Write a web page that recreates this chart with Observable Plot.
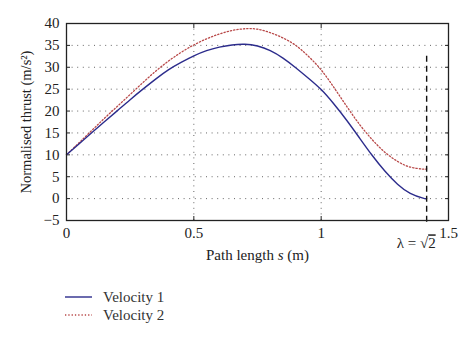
<!DOCTYPE html>
<html><head><meta charset="utf-8">
<script src="https://cdn.jsdelivr.net/npm/d3@7"></script>
<script src="https://cdn.jsdelivr.net/npm/@observablehq/plot@0.6"></script>
<style>
body{margin:0;background:#fff;font-family:"Liberation Serif","DejaVu Serif",serif;}
#chart svg{display:block;}
#legend{margin-left:65px;padding-top:16px;font-size:15px;color:#333;}
#legend .row{display:flex;align-items:center;height:18px;}
#legend svg{margin-right:11px;}
</style></head><body><div id="chart"></div><div id="legend"></div>
<script>
const s = [0,0.05,0.1,0.15,0.2,0.25,0.3,0.35,0.4,0.45,0.5,0.55,0.6,0.65,0.7,0.75,0.8,0.85,0.9,0.95,1.0,1.05,1.1,1.15,1.2,1.25,1.3,1.35,1.4,1.4142];
const velocity1 = [10,12.55,15.1,17.6,20.1,22.6,25.0,27.3,29.4,31.1,32.6,33.8,34.6,35.1,35.25,34.85,33.8,32.1,29.9,27.5,24.9,21.6,17.9,13.9,9.9,6.3,3.3,1.2,0.1,0];
const velocity2 = [10,12.8,15.6,18.4,21.1,23.8,26.5,29.1,31.4,33.4,35.1,36.5,37.6,38.4,38.8,38.7,37.9,36.7,35.0,32.5,29.4,25.4,21.1,17.0,13.5,10.6,8.5,7.2,6.75,6.8];
const seriesNames = ["Velocity 1","Velocity 2"];
const seriesColors = ["#2c2c8c","#b84848"];
const xTicks = [0,0.5,1,1.5];
const yTicks = [-5,0,5,10,15,20,25,30,35,40];
const xGrid = [0.5,1];
const yGrid = [0,5,10,15,20,25,30,35];
const lambda = Math.SQRT2;
const lambdaTop = 32.5;
const lambdaLabel = "λ = √2";

const rows = [];
s.forEach((x,i)=>{
  rows.push({s:x, v:velocity1[i], series:seriesNames[0]});
  rows.push({s:x, v:velocity2[i], series:seriesNames[1]});
});

const chart = Plot.plot({
  width:474, height:272,
  marginLeft:66, marginRight:26, marginTop:23, marginBottom:52,
  style:{fontFamily:'"Liberation Serif","DejaVu Serif",serif', fontSize:"15px", color:"#222", background:"#fff"},
  x:{domain:[0,1.5]},
  y:{domain:[-5,40]},
  marks:[
    Plot.gridY(yGrid,{stroke:"#666", strokeOpacity:1, strokeDasharray:"1,4.6", strokeWidth:1}),
    Plot.gridX(xGrid,{stroke:"#666", strokeOpacity:1, strokeDasharray:"1,4.6", strokeWidth:1}),
    Plot.axisY(yTicks,{anchor:"left", tickSize:0, tickPadding:7, label:"Normalised thrust (m/s²)", labelArrow:"none", labelAnchor:"center", labelOffset:46, fontSize:15}),
    Plot.axisX(xTicks,{anchor:"bottom", tickSize:0, tickPadding:7, tickFormat:d=>String(d), label:"Path length s (m)", labelArrow:"none", labelAnchor:"center", labelOffset:39, fontSize:15}),
    Plot.axisY(yTicks,{anchor:"left", tickSize:4, tickFormat:()=>"", dx:4, label:null, stroke:"#222"}),
    Plot.axisY(yTicks,{anchor:"right", tickSize:4, tickFormat:()=>"", dx:-4, label:null, stroke:"#222"}),
    Plot.axisX(xTicks,{anchor:"bottom", tickSize:4, tickFormat:()=>"", dy:-4, label:null, stroke:"#222"}),
    Plot.axisX(xTicks,{anchor:"top", tickSize:4, tickFormat:()=>"", dy:4, label:null, stroke:"#222"}),
    Plot.line(rows.filter(d=>d.series===seriesNames[1]),{x:"s", y:"v", stroke:seriesColors[1], strokeWidth:1.3, strokeDasharray:"1.3,2", curve:"natural"}),
    Plot.line(rows.filter(d=>d.series===seriesNames[0]),{x:"s", y:"v", stroke:seriesColors[0], strokeWidth:1.4, curve:"natural"}),
    Plot.ruleX([lambda],{y1:lambdaTop, y2:-5.7, stroke:"#111", strokeWidth:1.4, strokeDasharray:"6,4", clip:false}),
    Plot.text([lambda],{x:d=>d, y:-5, text:()=>lambdaLabel, dy:23, dx:9, textAnchor:"end", fontSize:15, fill:"#222"}),
    Plot.frame({stroke:"#222", strokeWidth:1.3})
  ]
});
document.getElementById("chart").appendChild(chart);

// Typographic touches: overline for the radicand, italic path variable, no arrows
d3.select(chart).selectAll("text").each(function(){
  const t = d3.select(this);
  const txt = this.textContent;
  if (txt === lambdaLabel) {
    t.text("λ = √");
    t.append("tspan").attr("text-decoration","overline").text("2");
  } else if (txt.startsWith("Path length")) {
    const inner = this.querySelector("tspan");
    const node = inner ? d3.select(inner) : t;
    node.text("Path length ");
    node.append("tspan").attr("font-style","italic").text("s");
    node.append("tspan").text(" (m)");
  } else if (txt.startsWith("Normalised")) {
    const inner = this.querySelector("tspan");
    const node = inner ? d3.select(inner) : t;
    node.text("Normalised thrust (m/s²)").attr("font-size", 14.5);
  }
});

const legend = d3.select("#legend");
seriesNames.forEach((name,i)=>{
  const row = legend.append("div").attr("class","row");
  const sw = row.append("svg").attr("width",27).attr("height",10);
  sw.append("line").attr("x1",0).attr("x2",27).attr("y1",5).attr("y2",5)
    .attr("stroke",seriesColors[i]).attr("stroke-width",1.4)
    .attr("stroke-dasharray", i===1 ? "1.3,2" : null);
  row.append("span").text(name);
});
</script>
</body></html>
